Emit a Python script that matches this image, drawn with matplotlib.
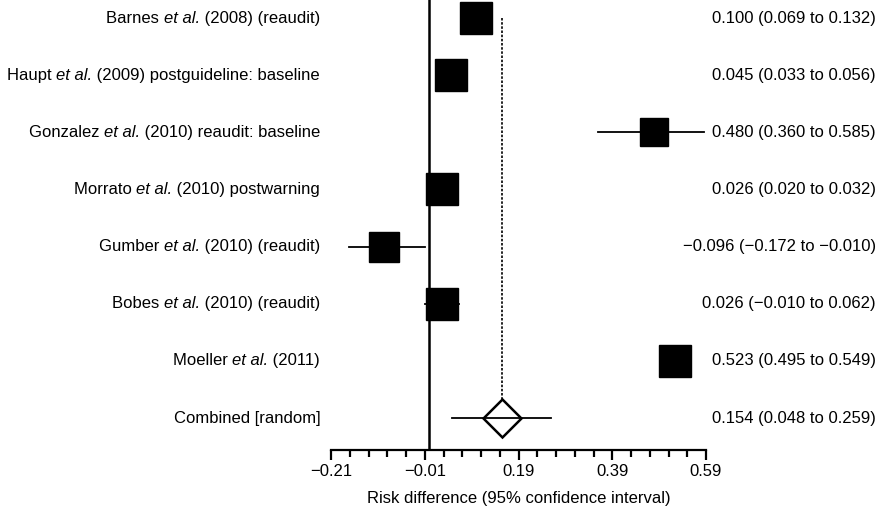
import numpy as np
import matplotlib
matplotlib.use('Agg')
from matplotlib import pyplot as plt
from matplotlib.ticker import FixedLocator
from matplotlib.offsetbox import TextArea, HPacker, AnnotationBbox
import matplotlib.transforms as mtransforms

plt.rcParams['font.family'] = ['Liberation Sans', 'DejaVu Sans']

# study data
names = ['Barnes', 'Haupt', 'Gonzalez', 'Morrato', 'Gumber', 'Bobes', 'Moeller']
details = ['(2008) (reaudit)', '(2009) postguideline: baseline',
           '(2010) reaudit: baseline', '(2010) postwarning', '(2010) (reaudit)',
           '(2010) (reaudit)', '(2011)']
estimates = [0.100, 0.045, 0.480, 0.026, -0.096, 0.026, 0.523]
lower = [0.069, 0.033, 0.360, 0.020, -0.172, -0.010, 0.495]
upper = [0.132, 0.056, 0.585, 0.032, -0.010, 0.062, 0.549]

combined_label = 'Combined [random]'
combined_est = 0.154
combined_lo = 0.048
combined_hi = 0.259

xticks = [-0.21, -0.01, 0.19, 0.39, 0.59]

# marker sizes (points), roughly as in the picture
square_ms = [22.5, 22.5, 19.5, 22.5, 22, 22.5, 22.5]
FS = 12

def fmt(v, nd=3):
    return ('%.*f' % (nd, v)).replace('-', '\u2212')

fig = plt.figure(figsize=(8.92, 5.11), dpi=100)
ax = fig.add_axes([331 / 892, 61 / 511, 375 / 892, 450 / 511])

n = len(names)
ypos = np.arange(n, 0, -1)  # Barnes at top, combined at 0

for i in range(n):
    ax.plot([lower[i], upper[i]], [ypos[i], ypos[i]], color='black', lw=1.3, zorder=2)
    ax.plot(estimates[i], ypos[i], marker='s', ms=square_ms[i], color='black',
            mec='black', zorder=3)

# combined estimate
ax.plot(combined_est, 0, marker='D', ms=19, mfc='white', mec='black', mew=1.8, zorder=3)
ax.plot([combined_lo, combined_hi], [0, 0], color='black', lw=1.3, zorder=4)
ax.plot([combined_est, combined_est], [ypos[0], 0.33], color='black', lw=1.2,
        ls=(0, (1.5, 1)), zorder=1)

# line of no effect
ax.axvline(0, color='black', lw=1.8, zorder=1)

ax.set_xlim(-0.21, 0.59)
ax.set_ylim(-0.56, n + 0.315)

for s in ['top', 'right', 'left']:
    ax.spines[s].set_visible(False)
ax.spines['bottom'].set_linewidth(1.6)
ax.set_yticks([])
ax.xaxis.set_major_locator(FixedLocator(xticks))
ax.xaxis.set_minor_locator(FixedLocator(np.arange(-0.21, 0.5901, 0.04)))
ax.set_xticklabels([fmt(v, 2) for v in xticks])
ax.tick_params(axis='x', which='major', length=7, width=1.6, labelsize=FS, pad=3)
ax.tick_params(axis='x', which='minor', length=5, width=1.6)
ax.set_xlabel('Risk difference (95% confidence interval)', fontsize=FS, labelpad=9)

trans = mtransforms.blended_transform_factory(ax.transAxes, ax.transData)

# study labels with italic "et al."
for i in range(n):
    parts = [TextArea(names[i] + ' ', textprops=dict(fontsize=FS)),
             TextArea('et al.', textprops=dict(fontsize=FS, style='italic')),
             TextArea(' ' + details[i], textprops=dict(fontsize=FS))]
    box = HPacker(children=parts, pad=0, sep=0, align='baseline')
    ab = AnnotationBbox(box, (-0.029, ypos[i]), xycoords=trans, box_alignment=(1, 0.5),
                        frameon=False, pad=0)
    ax.add_artist(ab)

ax.text(-0.029, 0, combined_label, transform=trans, ha='right', va='center', fontsize=FS)

ests = estimates + [combined_est]
los = lower + [combined_lo]
his = upper + [combined_hi]
ys = list(ypos) + [0]
for e, lo, hi, y in zip(ests, los, his, ys):
    ax.text(1.453, y, '%s (%s to %s)' % (fmt(e), fmt(lo), fmt(hi)),
            transform=trans, ha='right', va='center', fontsize=FS)

fig.savefig('out.png', dpi=100)
